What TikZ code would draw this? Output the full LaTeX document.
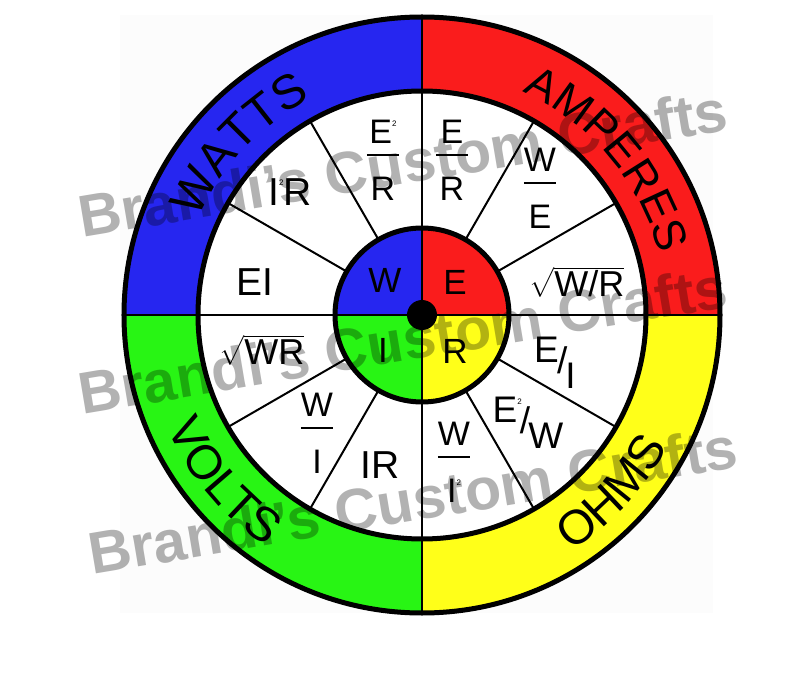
\documentclass[tikz,border=0pt]{standalone}
\usepackage{amsmath}
\usepackage{fontspec}
\setmainfont{Liberation Sans}
\usetikzlibrary{decorations.text}

\definecolor{wattblue}{RGB}{38,38,240}
\definecolor{ampred}{RGB}{250,28,28}
\definecolor{voltgreen}{RGB}{40,245,20}
\definecolor{ohmyellow}{RGB}{255,255,25}

\newcommand{\sq}{\raisebox{0.5em}{\fontsize{8}{8}\selectfont 2}}
\newcommand{\frc}[2]{\begin{tabular}{@{}c@{}}#1\\[-21pt]\rule{0.95em}{2pt}\\[10pt]#2\end{tabular}}
\newcommand{\slfrac}[2]{#1\kern-0.05em\raisebox{-0.3em}{/}\kern-0.05em\raisebox{-0.7em}{#2}}

\begin{document}
\begin{tikzpicture}[x=1pt,y=1pt,
  ringline/.style={draw,line width=5pt,circle,inner sep=0pt,outer sep=0pt},
  spoke/.style={line width=2pt},
  lbl/.style={font=\fontsize{39}{39}\selectfont,inner sep=0pt},
  frac/.style={font=\fontsize{34}{34}\selectfont,inner sep=0pt},
  hubtxt/.style={font=\fontsize{35}{35}\selectfont,inner sep=0pt},
  arctext/.style={decorate,decoration={text along path,text align=center,text={|\fontsize{48}{48}\selectfont|#1}}},
  wmark/.style={font=\bfseries\fontsize{59}{59}\selectfont,text=black,text opacity=0.3,anchor=base west,rotate=9.5,inner sep=0pt}]
  \useasboundingbox (-422,-359) rectangle (372,315);
  \fill[black!1] (-302,-298) rectangle (291,300);

  % outer coloured ring
  \foreach \c [count=\i] in {ampred,wattblue,voltgreen,ohmyellow}
    \fill[\c] (0,0) -- ({(\i-1)*90}:298) arc[start angle={(\i-1)*90},delta angle=90,radius=298pt] -- cycle;
  \node[ringline,minimum size=596pt] (rim) at (0,0) {};
  \node[ringline,fill=white,minimum size=448pt] (ring) at (0,0) {};

  % hub
  \foreach \c [count=\i] in {ampred,wattblue,voltgreen,ohmyellow}
    \fill[\c] (0,0) -- ({(\i-1)*90}:87) arc[start angle={(\i-1)*90},delta angle=90,radius=87pt] -- cycle;
  \node[ringline,minimum size=174pt] (hub) at (0,0) {};

  \foreach \a in {30,60,120,150,210,240,300,330}
    \draw[spoke] (hub.\a) -- (ring.\a);
  \draw[spoke] (rim.0) -- (rim.180);
  \draw[spoke] (rim.90) -- (rim.270);
  \node[circle,fill=black,minimum size=30pt,inner sep=0pt] (dot) at (0,0) {};

  \node[hubtxt] (w) at (-37,35) {W};
  \node[hubtxt] (e) at (33,33) {E};
  \node[hubtxt] (i) at (-39,-35) {I};
  \node[hubtxt] (r) at (33,-36) {R};

  \node[lbl] (ei) at (-167,33) {EI};
  \node[lbl] (iir) at (-132,123) {I\sq R};
  \node[frac] (eer) at (-39,150) {\frc{E\sq}{R}};
  \node[frac] (er) at (30,150) {\frc{E}{R}};
  \node[frac] (we) at (118,122) {\frc{W}{E}};
  \node[lbl,font=\fontsize{36}{36}\selectfont] (swr) at (155,33) {$\sqrt{\text{W/R}}$};
  \node[lbl,font=\fontsize{37}{37}\selectfont] (eoi) at (133,-48) {\slfrac{E}{I}};
  \node[lbl,font=\fontsize{37}{37}\selectfont] (eew) at (106,-108) {\slfrac{E\sq}{W}};
  \node[frac] (wii) at (32,-152) {\frc{W}{I\sq}};
  \node[lbl] (ir) at (-42,-150) {IR};
  \node[frac] (wi) at (-105,-123) {\frc{W}{I}};
  \node[lbl,font=\fontsize{36}{36}\selectfont] (sqwr) at (-160,-35) {$\sqrt{\text{WR}}$};

  \path[arctext=WATTS] (170:243) arc[start angle=170,end angle=104,radius=243pt];
  \path[arctext={|\fontsize{45}{45}\selectfont|AMPERES}] (84:245) arc[start angle=84,end angle=-4,radius=245pt];
  \path[arctext=VOLTS] (185:279) arc[start angle=185,end angle=255,radius=279pt];
  \path[arctext=OHMS] (-78:279) arc[start angle=-78,end angle=-8,radius=279pt];

  \node[wmark] (wm1) at (-340,77) {Brandi's Custom Crafts};
  \node[wmark] (wm2) at (-340,-100) {Brandi's Custom Crafts};
  \node[wmark] (wm3) at (-330,-260) {Brandi's Custom Crafts};
\end{tikzpicture}
\end{document}
